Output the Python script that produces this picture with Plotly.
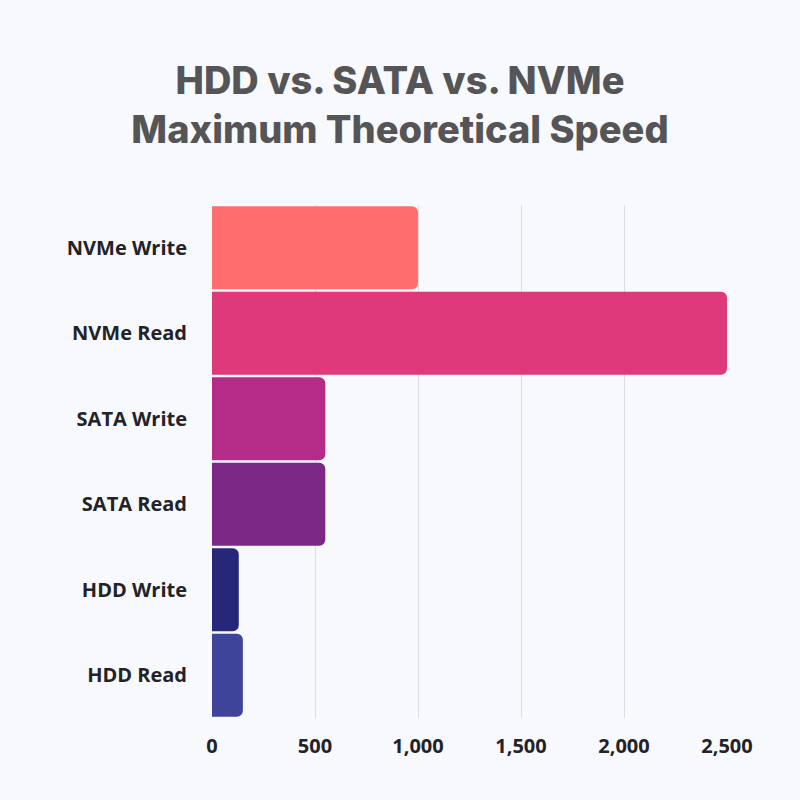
import plotly.graph_objects as go

categories = ["NVMe Write", "NVMe Read", "SATA Write", "SATA Read", "HDD Write", "HDD Read"]
speeds = [1000, 2500, 550, 550, 130, 150]
colors = ["#ff6e6e", "#de3a7b", "#b52c86", "#7a2883", "#262779", "#3e4499"]
tick_vals = [0, 500, 1000, 1500, 2000, 2500]
tick_text = ["0", "500", "1,000", "1,500", "2,000", "2,500"]

bg = "#f8f9fc"

fig = go.Figure(go.Bar(
    x=speeds, y=categories, orientation="h",
    marker=dict(color=colors, line=dict(width=0)),
))

fig.update_layout(
    width=800, height=800,
    paper_bgcolor=bg, plot_bgcolor=bg,
    margin=dict(l=212, r=73, t=205, b=82),
    bargap=0.03,
    barcornerradius=6,
    showlegend=False,
    title=dict(
        text="HDD vs. SATA vs. NVMe<br>Maximum Theoretical Speed",
        x=0.5, xanchor="center", y=0.8825, yanchor="middle",
        font=dict(family="Inter", size=38, color="#555558", weight=800),
    ),
    font=dict(family="Open Sans", color="#222228"),
)

fig.update_xaxes(
    range=[0, 2500], tickvals=tick_vals, ticktext=tick_text,
    showgrid=True, gridcolor="#dcdde3", gridwidth=1, zeroline=False,
    showline=False, ticks="outside", ticklen=10, tickcolor=bg,
    tickfont=dict(family="Open Sans", size=20, color="#222228", weight="bold"),
)
fig.update_yaxes(
    autorange="reversed", showgrid=False, zeroline=False, showline=False,
    ticks="outside", ticklen=20, tickcolor=bg,
    tickfont=dict(family="Open Sans", size=20, color="#222228", weight="bold"),
)

fig.write_html("out.html")
